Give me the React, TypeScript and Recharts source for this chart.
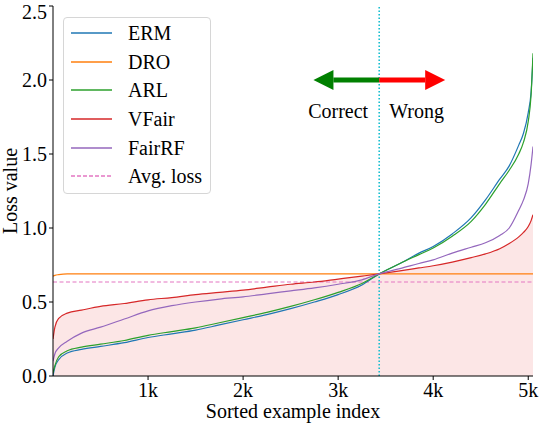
import { ComposedChart, Line, Area, XAxis, YAxis, ReferenceLine, ReferenceDot, Legend } from 'recharts';

// sorted example index (x) and the loss of each method at that index
const sortedIndex = [0, 20, 60, 150, 300, 500, 750, 1000, 1250, 1500, 1750, 2000, 2250, 2500, 2750, 3000, 3250, 3432, 3650, 3850, 4000, 4200, 4400, 4550, 4700, 4800, 4900, 4950, 5000, 5030, 5050];
const ermLoss = [0.0, 0.06, 0.11, 0.155, 0.18, 0.2, 0.225, 0.26, 0.285, 0.31, 0.345, 0.38, 0.415, 0.455, 0.5, 0.55, 0.615, 0.69, 0.76, 0.83, 0.875, 0.96, 1.07, 1.19, 1.33, 1.42, 1.56, 1.64, 1.78, 1.92, 2.15];
const droLoss = [0.675, 0.68, 0.685, 0.69, 0.69, 0.69, 0.69, 0.69, 0.69, 0.69, 0.69, 0.69, 0.69, 0.69, 0.69, 0.69, 0.69, 0.69, 0.69, 0.69, 0.69, 0.69, 0.69, 0.69, 0.69, 0.69, 0.69, 0.69, 0.69, 0.69, 0.69];
const arlLoss = [0.02, 0.07, 0.13, 0.17, 0.195, 0.215, 0.24, 0.275, 0.3, 0.325, 0.36, 0.395, 0.43, 0.47, 0.515, 0.565, 0.625, 0.69, 0.76, 0.82, 0.865, 0.945, 1.045, 1.16, 1.3, 1.39, 1.5, 1.58, 1.72, 1.9, 2.18];
const vfairLoss = [0.25, 0.33, 0.39, 0.425, 0.445, 0.47, 0.49, 0.515, 0.53, 0.55, 0.565, 0.58, 0.6, 0.62, 0.635, 0.655, 0.675, 0.69, 0.71, 0.73, 0.745, 0.77, 0.8, 0.825, 0.86, 0.895, 0.94, 0.97, 1.01, 1.05, 1.09];
const fairrfLoss = [0.1, 0.15, 0.19, 0.235, 0.29, 0.33, 0.385, 0.44, 0.475, 0.5, 0.52, 0.535, 0.555, 0.575, 0.595, 0.62, 0.65, 0.69, 0.725, 0.76, 0.785, 0.83, 0.87, 0.9, 0.95, 1.0, 1.12, 1.19, 1.3, 1.43, 1.55];

const avgLoss = 0.635;
const splitIndex = 3432;
const xTicks = [1000, 2000, 3000, 4000, 5000];
const yTicks = [0, 0.5, 1, 1.5, 2, 2.5];

// Correct / Wrong arrow annotation
const arrowY = 2.0;
const correctTip = 2740;
const correctHeadBase = 2950;
const wrongHeadBase = 3915;
const wrongTip = 4126;
const labelY = 1.745;
const correctLabelX = 3000;
const wrongLabelX = 3826;

const FONT = 'Liberation Serif, Tinos, Times New Roman, DejaVu Serif, serif';

const series = [
    { key: 'erm', name: 'ERM', color: '#1f77b4' },
    { key: 'dro', name: 'DRO', color: '#ff7f0e' },
    { key: 'arl', name: 'ARL', color: '#2ca02c' },
    { key: 'vfair', name: 'VFair', color: '#d62728' },
    { key: 'fairrf', name: 'FairRF', color: '#9467bd' },
];

const rows = sortedIndex.map((x, i) => ({
    x,
    erm: ermLoss[i],
    dro: droLoss[i],
    arl: arlLoss[i],
    vfair: vfairLoss[i],
    fairrf: fairrfLoss[i],
}));

const ArrowHead = ({ cx, cy, dir, color }: any) => {
    const bx = cx - dir * 20;
    return <polygon points={`${cx},${cy} ${bx},${cy - 10} ${bx},${cy + 10}`} fill={color} />;
};

const renderLegend = () => (
    <div
        style={{
            width: 148,
            height: 177,
            boxSizing: 'border-box',
            border: '1px solid #d6d6d6',
            borderRadius: 4,
            background: 'rgba(255,255,255,0.8)',
            paddingTop: 1,
            fontFamily: FONT,
            fontSize: 20,
            color: '#000',
        }}
    >
        {[...series, { key: 'avg', name: 'Avg. loss', color: '#e377c2' }].map((s) => (
            <div key={s.key} style={{ height: 28.6, display: 'flex', alignItems: 'center' }}>
                <svg width={64} height={10} style={{ flex: 'none' }}>
                    <line
                        x1={7}
                        x2={48}
                        y1={5}
                        y2={5}
                        stroke={s.color}
                        strokeWidth={1.3}
                        strokeDasharray={s.key === 'avg' ? '4 2' : undefined}
                    />
                </svg>
                <span style={{ lineHeight: 1 }}>{s.name}</span>
            </div>
        ))}
    </div>
);

const renderYLabel = ({ viewBox }: any) => {
    const cx = viewBox.x + 17;
    const cy = viewBox.y + viewBox.height / 2;
    return (
        <text x={cx} y={cy} transform={`rotate(-90, ${cx}, ${cy})`} textAnchor="middle" style={{ fontFamily: FONT }} fontSize={20} fill="#000">
            Loss value
        </text>
    );
};

export default function App() {
    const tickStyle = { fill: '#000', fontSize: 20, style: { fontFamily: FONT } };
    return (
        <div style={{ position: 'absolute', left: 0, top: 0, background: '#fff', fontFamily: FONT }}>
            <ComposedChart width={541} height={423} data={rows} margin={{ top: 6, right: 8, bottom: 0, left: 0 }} style={{ fontFamily: FONT }}>
                <XAxis
                    dataKey="x"
                    type="number"
                    domain={[0, 5050]}
                    ticks={xTicks}
                    tickFormatter={(v) => `${v / 1000}k`}
                    height={47}
                    tick={tickStyle}
                    tickSize={4}
                    tickMargin={3}
                    axisLine={{ stroke: '#000' }}
                    tickLine={{ stroke: '#000' }}
                    allowDataOverflow
                    label={{ value: 'Sorted example index', position: 'insideBottom', offset: 5, fill: '#000', fontSize: 20, style: { fontFamily: FONT } }}
                />
                <XAxis xAxisId="top" orientation="top" type="number" domain={[0, 5050]} height={0} tick={false} tickLine={false} axisLine={{ stroke: '#000' }} />
                <YAxis
                    type="number"
                    domain={[0, 2.5]}
                    ticks={yTicks}
                    tickFormatter={(v) => v.toFixed(1)}
                    width={53}
                    tick={tickStyle}
                    tickSize={4}
                    tickMargin={2}
                    axisLine={{ stroke: '#000' }}
                    tickLine={{ stroke: '#000' }}
                    allowDataOverflow
                    label={{ value: 'Loss value', content: renderYLabel }}
                />
                <YAxis yAxisId="right" orientation="right" type="number" domain={[0, 2.5]} width={0} tick={false} tickLine={false} axisLine={{ stroke: '#000' }} />

                <Area dataKey="vfair" type="monotone" stroke="none" fill="#f08080" fillOpacity={0.2} isAnimationActive={false} legendType="none" />

                <ReferenceLine y={avgLoss} stroke="#e377c2" strokeWidth={1.2} strokeDasharray="4 2.5" />
                <ReferenceLine x={splitIndex} stroke="#17becf" strokeWidth={1.6} strokeDasharray="1.5 2" />

                {series.map((s) => (
                    <Line
                        key={s.key}
                        dataKey={s.key}
                        name={s.name}
                        type="monotone"
                        stroke={s.color}
                        strokeWidth={1.2}
                        dot={false}
                        activeDot={false}
                        isAnimationActive={false}
                    />
                ))}

                <ReferenceLine segment={[{ x: splitIndex, y: arrowY }, { x: correctHeadBase, y: arrowY }]} stroke="#008000" strokeWidth={5} />
                <ReferenceLine segment={[{ x: splitIndex, y: arrowY }, { x: wrongHeadBase, y: arrowY }]} stroke="#ff0000" strokeWidth={5} />
                <ReferenceDot x={correctTip} y={arrowY} r={0} shape={(p: any) => <ArrowHead {...p} dir={-1} color="#008000" />} />
                <ReferenceDot x={wrongTip} y={arrowY} r={0} shape={(p: any) => <ArrowHead {...p} dir={1} color="#ff0000" />} />
                <ReferenceDot
                    x={correctLabelX}
                    y={labelY}
                    r={0}
                    shape={(p: any) => (
                        <text x={p.cx} y={p.cy} textAnchor="middle" style={{ fontFamily: FONT }} fontSize={20} fill="#000">
                            Correct
                        </text>
                    )}
                />
                <ReferenceDot
                    x={wrongLabelX}
                    y={labelY}
                    r={0}
                    shape={(p: any) => (
                        <text x={p.cx} y={p.cy} textAnchor="middle" style={{ fontFamily: FONT }} fontSize={20} fill="#000">
                            Wrong
                        </text>
                    )}
                />

                <Legend
                    layout="vertical"
                    align="center"
                    verticalAlign="middle"
                    content={renderLegend}
                    wrapperStyle={{ left: 63, top: 17, width: 148, height: 177 }}
                />
            </ComposedChart>
        </div>
    );
}
